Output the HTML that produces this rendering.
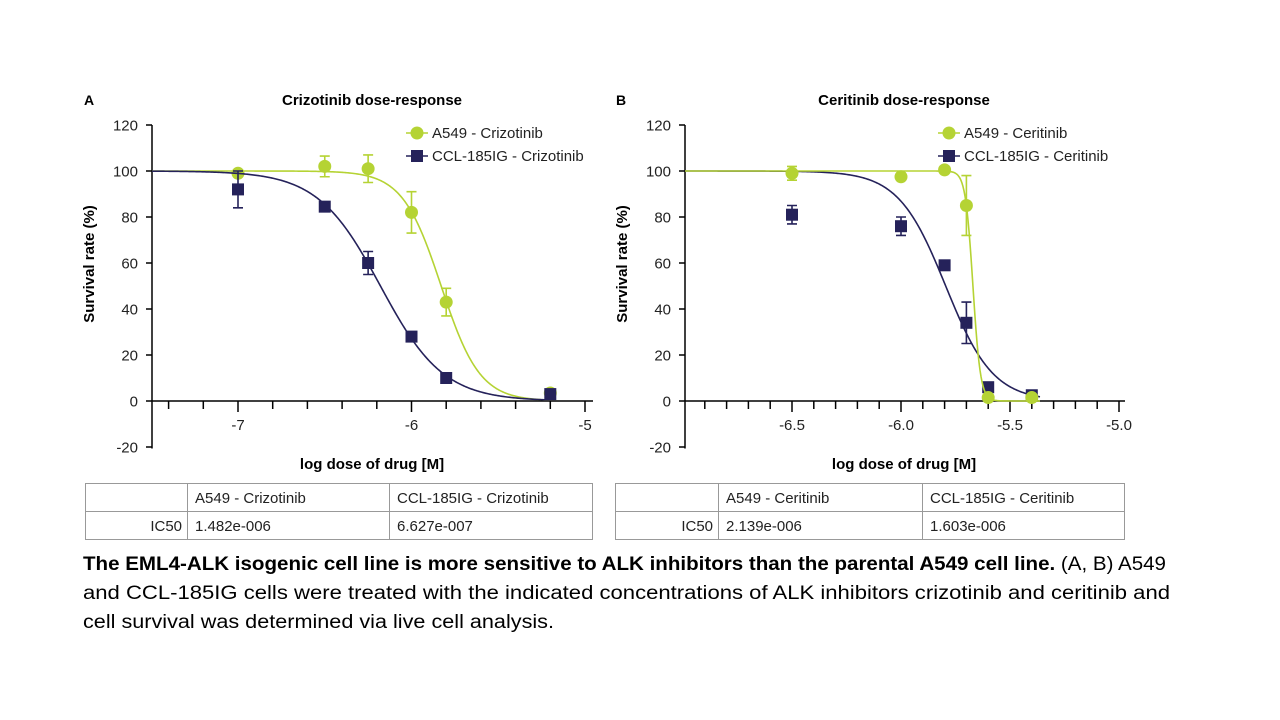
<!DOCTYPE html>
<html><head><meta charset="utf-8"><style>
html,body{margin:0;padding:0;background:#fff;}
svg{display:block;font-family:"Liberation Sans",sans-serif;}
</style></head><body>
<svg id="s" width="1280" height="720" viewBox="0 0 1280 720" xmlns="http://www.w3.org/2000/svg">
<g id="g"></g>
<g stroke="#999" stroke-width="1" fill="none">
<rect x="85.5" y="483.5" width="507" height="56"/>
<line x1="85" y1="511.5" x2="593" y2="511.5"/>
<line x1="187.5" y1="483" x2="187.5" y2="539"/>
<line x1="389.5" y1="483" x2="389.5" y2="539"/>
<rect x="615.5" y="483.5" width="509" height="56"/>
<line x1="615" y1="511.5" x2="1125" y2="511.5"/>
<line x1="718.5" y1="483" x2="718.5" y2="539"/>
<line x1="922.5" y1="483" x2="922.5" y2="539"/>
</g>
<g font-size="15" fill="#222">
<text x="195" y="503">A549 - Crizotinib</text>
<text x="397" y="503">CCL-185IG - Crizotinib</text>
<text x="182" y="531" text-anchor="end">IC50</text>
<text x="195" y="531">1.482e-006</text>
<text x="397" y="531">6.627e-007</text>
<text x="726" y="503">A549 - Ceritinib</text>
<text x="930" y="503">CCL-185IG - Ceritinib</text>
<text x="713" y="531" text-anchor="end">IC50</text>
<text x="726" y="531">2.139e-006</text>
<text x="930" y="531">1.603e-006</text>
</g>
<g font-size="19" fill="#000">
<text x="83" y="570" textLength="1083" lengthAdjust="spacingAndGlyphs"><tspan font-weight="bold">The EML4-ALK isogenic cell line is more sensitive to ALK inhibitors than the parental A549 cell line.</tspan> (A, B) A549</text>
<text x="83" y="599" textLength="1087" lengthAdjust="spacingAndGlyphs">and CCL-185IG cells were treated with the indicated concentrations of ALK inhibitors crizotinib and ceritinib and</text>
<text x="83" y="628" textLength="471" lengthAdjust="spacingAndGlyphs">cell survival was determined via live cell analysis.</text>
</g>
</svg>
<script>
const G=document.getElementById('g');let h='';
const GR='#b5d334',NV='#25225a';
function panel(o){
 const ax=o.ax, y=v=>401-v*2.3, x=l=>o.x0+(l-o.l0)*o.k;
 h+=`<text x="${o.lx}" y="105" font-size="14" font-weight="bold">${o.letter}</text>`;
 h+=`<text x="${o.tx}" y="105" font-size="15" font-weight="bold" text-anchor="middle">${o.title}</text>`;
 h+=`<line x1="${ax}" y1="125" x2="${ax}" y2="448.5" stroke="#000" stroke-width="1.5"/>`;
 for(let v=-20;v<=120;v+=20){h+=`<line x1="${ax-6}" y1="${y(v)}" x2="${ax}" y2="${y(v)}" stroke="#000" stroke-width="1.5"/><text x="${ax-14}" y="${y(v)+5.5}" font-size="15" text-anchor="end" fill="#222">${v}</text>`;}
 h+=`<line x1="${ax}" y1="401" x2="${o.xe}" y2="401" stroke="#000" stroke-width="1.5"/>`;
 for(const t of o.ticks){const X=x(t[0]);h+=`<line x1="${X}" y1="401" x2="${X}" y2="${t[1]?412:409}" stroke="#000" stroke-width="1.5"/>`;if(t[1])h+=`<text x="${X}" y="430" font-size="15" text-anchor="middle" fill="#222">${t[1]}</text>`;}
 h+=`<text x="${o.tx}" y="469" font-size="15" font-weight="bold" text-anchor="middle">log dose of drug [M]</text>`;
 h+=`<text transform="translate(${ax-58},264) rotate(-90)" font-size="15" font-weight="bold" text-anchor="middle">Survival rate (%)</text>`;
 for(const c of o.curves){let p='';for(let X=ax;X<=c.x1;X+=1){const l=o.l0+(X-o.x0)/o.k;const v=100/(1+Math.pow(10,(l-c.ic)*c.h));p+=(p?'L':'M')+X+' '+y(v).toFixed(2);}
  h+=`<path d="${p}" fill="none" stroke="${c.col}" stroke-width="1.6"/>`;
  for(const d of c.d){const X=x(d[0]),Y=y(d[1]);if(d[2]){const a=y(d[1]+d[2]),b=y(d[1]-d[2]);h+=`<path d="M${X} ${a}V${b}M${X-5} ${a}H${X+5}M${X-5} ${b}H${X+5}" stroke="${c.col}" stroke-width="1.6"/>`;}
   h+=c.sq?`<rect x="${X-6}" y="${Y-6}" width="12" height="12" fill="${c.col}"/>`:`<circle cx="${X}" cy="${Y}" r="6.5" fill="${c.col}"/>`;}}
 const L=o.leg;
 h+=`<line x1="${L}" y1="133" x2="${L+22}" y2="133" stroke="${GR}" stroke-width="1.6"/><circle cx="${L+11}" cy="133" r="6.5" fill="${GR}"/><text x="${L+26}" y="138" font-size="15" fill="#222">${o.n1}</text>`;
 h+=`<line x1="${L}" y1="156" x2="${L+22}" y2="156" stroke="${NV}" stroke-width="1.6"/><rect x="${L+5}" y="150" width="12" height="12" fill="${NV}"/><text x="${L+26}" y="161" font-size="15" fill="#222">${o.n2}</text>`;
}
let tA=[];for(let i=0;i<=12;i++){const l=-7.4+i*0.2;let lab=null;if(Math.abs(l+7)<1e-6)lab='-7';if(Math.abs(l+6)<1e-6)lab='-6';if(Math.abs(l+5)<1e-6)lab='-5';tA.push([l,lab]);}
tA=tA.filter(t=>t[0]<=-4.99);
panel({letter:'A',lx:84,tx:372,title:'Crizotinib dose-response',ax:152,x0:238,l0:-7,k:173.5,xe:593,leg:406,
 ticks:tA,n1:'A549 - Crizotinib',n2:'CCL-185IG - Crizotinib',
 curves:[
 {col:GR,x1:545,ic:-5.829,h:3.9,d:[[-7,99,0],[-6.5,102,4.5],[-6.25,101,6],[-6,82,9],[-5.8,43,6],[-5.2,3.5,0]]},
 {col:NV,x1:545,sq:1,ic:-6.179,h:2.4,d:[[-7,92,8],[-6.5,84.5,0],[-6.25,60,5],[-6,28,0],[-5.8,10,0],[-5.2,3,0]]}]});
let tB=[];for(let i=0;i<=19;i++){const l=-6.9+i*0.1;let lab=null;for(const s of ['-6.5','-6.0','-5.5','-5.0'])if(Math.abs(l-parseFloat(s))<1e-6)lab=s;tB.push([l,lab]);}
panel({letter:'B',lx:616,tx:904,title:'Ceritinib dose-response',ax:685,x0:792,l0:-6.5,k:218,xe:1125,leg:938,
 ticks:tB,n1:'A549 - Ceritinib',n2:'CCL-185IG - Ceritinib',
 curves:[
 {col:NV,x1:1040,sq:1,ic:-5.795,h:4,d:[[-6.5,81,4],[-6,76,4],[-5.8,59,2],[-5.7,34,9],[-5.6,6,2],[-5.4,2.5,0]]},
 {col:GR,x1:1040,ic:-5.67,h:25,d:[[-6.5,99,3],[-6,97.5,0],[-5.8,100.5,0],[-5.7,85,13],[-5.6,1.5,0],[-5.4,1.5,0]]}]});
G.innerHTML=h;
</script>
</body></html>
